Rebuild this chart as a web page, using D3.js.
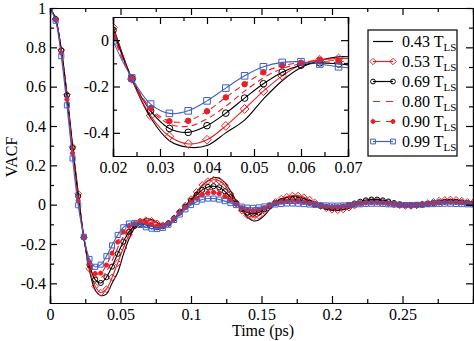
<!DOCTYPE html>
<html>
<head>
<meta charset="utf-8">
<script src="https://cdn.jsdelivr.net/npm/d3@7"></script>
<style>
  body { margin: 0; background: #fff; }
  svg { display: block; font-family: 'Liberation Serif', 'Times New Roman', serif; }
  .axis path, .axis line { stroke: #000; stroke-width: 1.2; }
  .axis text { font-size: 16px; fill: #000; font-family: 'Liberation Serif', serif; }
</style>
</head>
<body>
<div id="chart"></div>
<script>
// Time samples (ps)
var times = [0, 0.004, 0.008, 0.012, 0.016, 0.020, 0.024, 0.028, 0.032, 0.036, 0.040, 0.044,
  0.048, 0.052, 0.056, 0.060, 0.064, 0.068, 0.072, 0.076, 0.080, 0.084, 0.088, 0.092,
  0.096, 0.100, 0.104, 0.108, 0.112, 0.116, 0.120, 0.124, 0.128, 0.132, 0.136, 0.140,
  0.144, 0.148, 0.152, 0.156, 0.160, 0.164, 0.168, 0.172, 0.176, 0.180, 0.184, 0.188,
  0.192, 0.196, 0.200, 0.204, 0.208, 0.212, 0.216, 0.220, 0.224, 0.228, 0.232, 0.236,
  0.240, 0.244, 0.248, 0.252, 0.256, 0.260, 0.264, 0.268, 0.272, 0.276, 0.280, 0.284,
  0.288, 0.292, 0.296, 0.300];

// VACF for each temperature
var vacf043 = [1, 0.945, 0.79, 0.565, 0.30, 0.06, -0.168, -0.335, -0.434, -0.462, -0.455, -0.40,
  -0.345, -0.254, -0.175, -0.118, -0.088, -0.072, -0.075, -0.09, -0.105, -0.10, -0.075, -0.04,
  -0.005, 0.025, 0.06, 0.095, 0.122, 0.137, 0.135, 0.112, 0.07, 0.02, -0.028, -0.063,
  -0.082, -0.078, -0.055, -0.022, 0.008, 0.028, 0.038, 0.042, 0.04, 0.032, 0.02, 0.005,
  -0.01, -0.022, -0.028, -0.03, -0.026, -0.018, -0.006, 0.006, 0.016, 0.022, 0.024, 0.02,
  0.012, 0.004, -0.002, -0.006, -0.008, -0.006, -0.002, 0.004, 0.01, 0.016, 0.02, 0.022,
  0.02, 0.016, 0.012, 0.008];

var vacf053 = [1, 0.944, 0.787, 0.56, 0.295, 0.055, -0.167, -0.326, -0.415, -0.448, -0.43, -0.37,
  -0.297, -0.22, -0.154, -0.105, -0.085, -0.079, -0.082, -0.095, -0.105, -0.095, -0.07, -0.037,
  -0.005, 0.028, 0.065, 0.1, 0.12, 0.127, 0.122, 0.098, 0.055, 0.01, -0.03, -0.055,
  -0.064, -0.056, -0.032, -0.008, 0.014, 0.03, 0.04, 0.046, 0.046, 0.038, 0.026, 0.01,
  -0.006, -0.018, -0.026, -0.028, -0.024, -0.015, -0.004, 0.006, 0.014, 0.018, 0.018, 0.014,
  0.008, 0.002, -0.003, -0.006, -0.006, -0.003, 0.002, 0.008, 0.014, 0.02, 0.024, 0.026,
  0.024, 0.02, 0.014, 0.01];

var vacf069 = [1, 0.943, 0.783, 0.555, 0.288, 0.043, -0.166, -0.305, -0.381, -0.398, -0.369, -0.315,
  -0.25, -0.188, -0.138, -0.108, -0.098, -0.103, -0.11, -0.115, -0.11, -0.095, -0.07, -0.04,
  -0.01, 0.02, 0.05, 0.075, 0.09, 0.094, 0.088, 0.068, 0.038, 0.006, -0.022, -0.04,
  -0.046, -0.04, -0.024, -0.006, 0.008, 0.018, 0.024, 0.026, 0.024, 0.018, 0.01, 0.002,
  -0.006, -0.012, -0.016, -0.016, -0.012, -0.004, 0.006, 0.015, 0.022, 0.026, 0.026, 0.022,
  0.016, 0.008, 0.002, -0.002, -0.004, -0.003, 0, 0.004, 0.008, 0.012, 0.015, 0.016,
  0.015, 0.012, 0.008, 0.005];

var vacf080 = [1, 0.942, 0.778, 0.545, 0.275, 0.03, -0.165, -0.300, -0.362, -0.372, -0.34, -0.285,
  -0.22, -0.163, -0.123, -0.102, -0.092, -0.098, -0.105, -0.113, -0.11, -0.095, -0.07, -0.04,
  -0.012, 0.015, 0.04, 0.062, 0.074, 0.077, 0.07, 0.053, 0.028, 0.002, -0.02, -0.034,
  -0.038, -0.032, -0.018, -0.004, 0.008, 0.016, 0.02, 0.022, 0.02, 0.015, 0.008, 0.001,
  -0.005, -0.01, -0.013, -0.013, -0.01, -0.004, 0.003, 0.009, 0.013, 0.015, 0.014, 0.011,
  0.007, 0.002, -0.002, -0.004, -0.004, -0.002, 0.001, 0.005, 0.009, 0.012, 0.014, 0.015,
  0.014, 0.011, 0.008, 0.005];

var vacf090 = [1, 0.94, 0.772, 0.535, 0.262, 0.02, -0.165, -0.293, -0.35, -0.348, -0.307, -0.247,
  -0.19, -0.139, -0.11, -0.097, -0.085, -0.09, -0.1, -0.11, -0.108, -0.094, -0.07, -0.042,
  -0.015, 0.01, 0.032, 0.05, 0.06, 0.062, 0.056, 0.042, 0.022, 0.002, -0.015, -0.027,
  -0.03, -0.026, -0.015, -0.003, 0.007, 0.014, 0.018, 0.019, 0.017, 0.013, 0.007, 0.001,
  -0.004, -0.008, -0.01, -0.01, -0.007, -0.003, 0.002, 0.007, 0.01, 0.011, 0.011, 0.009,
  0.006, 0.002, -0.001, -0.003, -0.003, -0.002, 0.001, 0.004, 0.007, 0.01, 0.012, 0.013,
  0.012, 0.01, 0.007, 0.004];

var vacf099 = [1, 0.935, 0.755, 0.505, 0.235, -0.003, -0.163, -0.276, -0.316, -0.305, -0.262, -0.207,
  -0.154, -0.115, -0.096, -0.093, -0.103, -0.115, -0.122, -0.124, -0.118, -0.102, -0.078, -0.05,
  -0.024, -0.002, 0.015, 0.026, 0.031, 0.031, 0.026, 0.018, 0.008, -0.002, -0.01, -0.015,
  -0.016, -0.014, -0.009, -0.004, 0.001, 0.004, 0.006, 0.006, 0.005, 0.003, 0.001, -0.001,
  -0.003, -0.004, -0.005, -0.005, -0.004, -0.002, 0, 0.002, 0.004, 0.005, 0.005, 0.004,
  0.002, 0.001, -0.001, -0.002, -0.002, -0.001, 0, 0.002, 0.003, 0.004, 0.005, 0.005,
  0.004, 0.003, 0.002, 0.001];

var seriesLabels = ['0.43', '0.53', '0.69', '0.80', '0.90', '0.99'];

// Tick values
var mainXTicks = [0, 0.05, 0.1, 0.15, 0.2, 0.25];
var mainXMinor = [0.025, 0.075, 0.125, 0.175, 0.225, 0.275];
var mainYTicks = [-0.4, -0.2, 0, 0.2, 0.4, 0.6, 0.8, 1];
var mainYMinor = [-0.3, -0.1, 0.1, 0.3, 0.5, 0.7, 0.9];
var insetXTicks = [0.02, 0.03, 0.04, 0.05, 0.06, 0.07];
var insetXMinor = [0.025, 0.035, 0.045, 0.055, 0.065];
var insetYTicks = [-0.4, -0.2, 0];
var insetYMinor = [-0.3, -0.1];

/**
 * VacfChart
 * @param _parentElement -- the HTML element in which to draw the visualization
 */
VacfChart = function(_parentElement) {
  this.parentElement = _parentElement;
  this.initVisualization();
}

VacfChart.prototype.initVisualization = function() {
  var vis = this;

  vis.red = '#ee1c24';
  vis.blue = '#3f5fc6';

  vis.styles = [
    { color: '#000', dash: null, marker: null },
    { color: vis.red, dash: null, marker: 'diamond' },
    { color: '#000', dash: null, marker: 'circle' },
    { color: vis.red, dash: '6,4', marker: null },
    { color: vis.red, dash: '6,4', marker: 'dot' },
    { color: vis.blue, dash: null, marker: 'square' }
  ];

  vis.series = [vacf043, vacf053, vacf069, vacf080, vacf090, vacf099].map(function(vals, i) {
    return {
      label: seriesLabels[i],
      style: vis.styles[i],
      values: vals.map(function(v, j) { return { t: times[j], v: v }; })
    };
  });

  vis.svg = d3.select('#' + vis.parentElement)
              .append('svg')
              .attr('width', 474)
              .attr('height', 341);

  vis.svg.append('defs').append('clipPath')
         .attr('id', 'clip-main')
         .append('rect')
         .attr('x', 50).attr('y', 8)
         .attr('width', 423).attr('height', 295);

  vis.svg.select('defs').append('clipPath')
         .attr('id', 'clip-inset')
         .append('rect')
         .attr('x', 113).attr('y', 17)
         .attr('width', 235).attr('height', 139);

  // Main panel
  vis.x = d3.scaleLinear().domain([0, 0.3]).range([50, 473]);
  vis.y = d3.scaleLinear().domain([-0.5, 1]).range([303, 8]);

  vis.drawCurves(vis.svg.append('g').attr('clip-path', 'url(#clip-main)'), vis.x, vis.y, 0.85);
  vis.drawFrame(vis.svg.append('g'), vis.x, vis.y,
    [mainXTicks, mainXMinor, mainYTicks, mainYMinor], 7, 4);

  vis.svg.append('text')
         .attr('x', 263).attr('y', 336)
         .attr('text-anchor', 'middle')
         .attr('font-size', 16)
         .text('Time (ps)');

  vis.svg.append('text')
         .attr('transform', 'translate(17,157) rotate(-90)')
         .attr('text-anchor', 'middle')
         .attr('font-size', 16)
         .text('VACF');

  // Inset panel
  vis.xi = d3.scaleLinear().domain([0.02, 0.07]).range([113, 348]);
  vis.yi = d3.scaleLinear().domain([-0.5, 0.1]).range([156, 17]);

  vis.svg.append('rect')
         .attr('x', 113).attr('y', 17)
         .attr('width', 235).attr('height', 139)
         .attr('fill', '#fff');

  vis.drawCurves(vis.svg.append('g').attr('clip-path', 'url(#clip-inset)'), vis.xi, vis.yi, 1.1);
  vis.drawFrame(vis.svg.append('g'), vis.xi, vis.yi,
    [insetXTicks, insetXMinor, insetYTicks, insetYMinor], 7, 4);

  vis.drawLegend();
}

VacfChart.prototype.markerPath = function(type, k) {
  if (type === 'diamond') {
    var s = 4 * k;
    return 'M0,' + (-s) + 'L' + s + ',0L0,' + s + 'L' + (-s) + ',0Z';
  }
  if (type === 'square') {
    var h = 3 * k;
    return 'M' + (-h) + ',' + (-h) + 'H' + h + 'V' + h + 'H' + (-h) + 'Z';
  }
  var r = (type === 'dot' ? 2.5 : 3) * k;
  return d3.arc()({ innerRadius: 0, outerRadius: r, startAngle: 0, endAngle: 2 * Math.PI });
}

VacfChart.prototype.drawCurves = function(g, x, y, k) {
  var vis = this;
  var xd = x.domain();

  var line = d3.line()
               .x(function(d) { return x(d.t); })
               .y(function(d) { return y(d.v); })
               .curve(d3.curveCatmullRom.alpha(0.5));

  vis.series.forEach(function(s) {
    g.append('path')
     .datum(s.values)
     .attr('d', line)
     .attr('fill', 'none')
     .attr('stroke', s.style.color)
     .attr('stroke-width', 1.1)
     .attr('stroke-dasharray', s.style.dash);

    if (!s.style.marker) return;

    g.selectAll(null)
     .data(s.values.filter(function(d) { return d.t >= xd[0] - 0.001 && d.t <= xd[1] + 0.001; }))
     .enter()
     .append('path')
     .attr('transform', function(d) { return 'translate(' + x(d.t) + ',' + y(d.v) + ')'; })
     .attr('d', vis.markerPath(s.style.marker, k))
     .attr('fill', s.style.marker === 'dot' ? s.style.color : 'none')
     .attr('stroke', s.style.color)
     .attr('stroke-width', 1);
  });
}

VacfChart.prototype.drawFrame = function(g, x, y, ticks, major, minor) {
  var x0 = x.range()[0], x1 = x.range()[1];
  var y0 = y.range()[0], y1 = y.range()[1];
  var fmt = function(d) { return String(+d.toFixed(3)); };
  var none = function() { return ''; };

  // Bottom and left, labelled
  g.append('g').attr('class', 'axis').attr('transform', 'translate(0,' + y0 + ')')
   .call(d3.axisBottom(x).tickValues(ticks[0]).tickSize(-major).tickPadding(6).tickFormat(fmt));
  g.append('g').attr('class', 'axis').attr('transform', 'translate(0,' + y0 + ')')
   .call(d3.axisBottom(x).tickValues(ticks[1]).tickSize(-minor).tickFormat(none));
  g.append('g').attr('class', 'axis').attr('transform', 'translate(' + x0 + ',0)')
   .call(d3.axisLeft(y).tickValues(ticks[2]).tickSize(-major).tickPadding(4).tickFormat(fmt));
  g.append('g').attr('class', 'axis').attr('transform', 'translate(' + x0 + ',0)')
   .call(d3.axisLeft(y).tickValues(ticks[3]).tickSize(-minor).tickFormat(none));

  // Top and right, ticks only
  g.append('g').attr('class', 'axis').attr('transform', 'translate(0,' + y1 + ')')
   .call(d3.axisTop(x).tickValues(ticks[0]).tickSize(-major).tickFormat(none));
  g.append('g').attr('class', 'axis').attr('transform', 'translate(0,' + y1 + ')')
   .call(d3.axisTop(x).tickValues(ticks[1]).tickSize(-minor).tickFormat(none));
  g.append('g').attr('class', 'axis').attr('transform', 'translate(' + x1 + ',0)')
   .call(d3.axisRight(y).tickValues(ticks[2]).tickSize(-major).tickFormat(none));
  g.append('g').attr('class', 'axis').attr('transform', 'translate(' + x1 + ',0)')
   .call(d3.axisRight(y).tickValues(ticks[3]).tickSize(-minor).tickFormat(none));

  g.selectAll('.axis path.domain').attr('fill', 'none');
}

VacfChart.prototype.drawLegend = function() {
  var vis = this;

  var legend = vis.svg.append('g')
                      .attr('transform', 'translate(368,30)');

  legend.append('rect')
        .attr('width', 89).attr('height', 126)
        .attr('fill', '#fff')
        .attr('stroke', '#000')
        .attr('stroke-width', 1.2);

  var item = legend.selectAll('.item')
                   .data(vis.series)
                   .enter()
                   .append('g')
                   .attr('class', 'item')
                   .attr('transform', function(d, i) { return 'translate(0,' + (11.5 + 20 * i) + ')'; });

  item.append('line')
      .attr('x1', 5).attr('x2', 25)
      .attr('stroke', function(d) { return d.style.color; })
      .attr('stroke-width', 1.2)
      .attr('stroke-dasharray', function(d) { return d.style.dash ? '7,6' : null; });

  item.each(function(d) {
    if (!d.style.marker) return;
    d3.select(this).selectAll(null)
      .data([5, 25])
      .enter()
      .append('path')
      .attr('transform', function(px) { return 'translate(' + px + ',0)'; })
      .attr('d', vis.markerPath(d.style.marker, 0.8))
      .attr('fill', d.style.marker === 'dot' ? d.style.color : 'none')
      .attr('stroke', d.style.color);
  });

  var label = item.append('text')
                  .attr('x', 34).attr('y', 5)
                  .attr('font-size', 16);
  label.append('tspan').text(function(d) { return d.label + ' T'; });
  label.append('tspan').attr('font-size', 11).attr('dy', 4).text('LS');
}

new VacfChart('chart');
</script>
</body>
</html>
